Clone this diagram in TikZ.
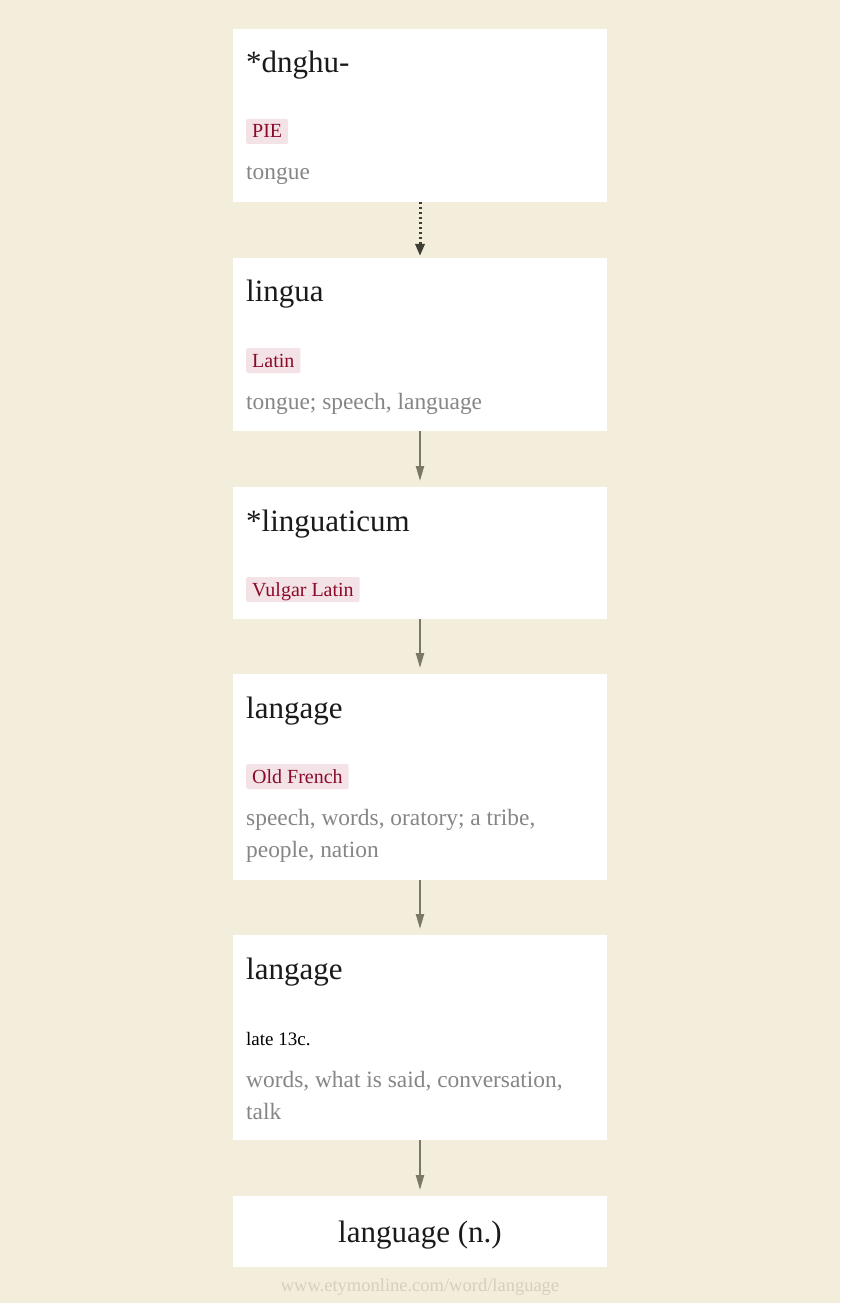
\documentclass[tikz,border=0pt]{standalone}
\usepackage{fontspec}
\setmainfont{Liberation Serif}
\usepackage{xcolor}
\usepackage{tikz}
\usetikzlibrary{arrows.meta}
\definecolor{pagebg}{HTML}{F3EDDB}
\definecolor{wordink}{HTML}{1A1A1A}
\definecolor{glossink}{HTML}{868686}
\definecolor{langink}{HTML}{8B0A2A}
\definecolor{langbg}{HTML}{F3E2E6}
\definecolor{linkink}{HTML}{7B7868}
\definecolor{guessink}{HTML}{3E3E34}
\definecolor{siteink}{HTML}{D5CFBF}

\begin{document}
\begin{tikzpicture}[x=1bp, y=-1bp]
    \tikzstyle{entry}=[fill=white, inner sep=0, minimum width=374bp, anchor=north]
    \tikzstyle{word}=[text=wordink, inner sep=0, anchor=base west, font=\fontsize{31bp}{36bp}\selectfont]
    \tikzstyle{lang}=[text=langink, fill=langbg, rounded corners=2bp, inner xsep=6bp, inner ysep=6bp,
                      text height=13bp, text depth=0bp, anchor=base west, font=\fontsize{20bp}{24bp}\selectfont]
    \tikzstyle{date}=[text=black, inner sep=0, anchor=base west, font=\fontsize{19bp}{24bp}\selectfont]
    \tikzstyle{gloss}=[text=glossink, inner sep=0, anchor=base west, font=\fontsize{23.4bp}{32bp}\selectfont]
    \tikzstyle{link}=[draw=linkink, line width=2.2bp, -{Triangle[length=15bp, width=8bp]}, shorten >=6bp]
    \tikzstyle{guess}=[draw=guessink, line width=3bp, dash pattern=on 2bp off 3bp, -{Triangle[length=12bp, width=9bp]}, shorten >=2bp]
    \fill[pagebg] (0,0) rectangle (840,1303);
    \useasboundingbox (0,0) rectangle (840,1303);

    \node[entry, minimum height=173bp] (pie) at (420,29) {};
    \node[word] (pieword) at (246,73) {*dnghu-};
    \node[lang] (pielang) at (246,138) {PIE};
    \node[gloss] (piegloss) at (246,180) {tongue};

    \node[entry, minimum height=173bp] (latin) at (420,258) {};
    \node[word] (latinword) at (246,302) {lingua};
    \node[lang] (latinlang) at (246,367) {Latin};
    \node[gloss] (latingloss) at (246,409) {tongue; speech, language};

    \node[entry, minimum height=132bp] (vulgar) at (420,487) {};
    \node[word] (vulgarword) at (246,531) {*linguaticum};
    \node[lang] (vulgarlang) at (246,596) {Vulgar Latin};

    \node[entry, minimum height=206bp] (oldfr) at (420,674) {};
    \node[word] (oldfrword) at (246,718) {langage};
    \node[lang] (oldfrlang) at (246,783) {Old French};
    \node[gloss] (oldfrgloss) at (246,825) {speech, words, oratory; a tribe,};
    \node[gloss] (oldfrgloss2) at (246,857) {people, nation};

    \node[entry, minimum height=205bp] (midengl) at (420,935) {};
    \node[word] (midenglword) at (246,979) {langage};
    \node[date] (midengldate) at (246,1045) {late 13c.};
    \node[gloss] (midenglgloss) at (246,1087) {words, what is said, conversation,};
    \node[gloss] (midenglgloss2) at (246,1119) {talk};

    \node[entry, minimum height=71bp] (modern) at (420,1196) {};
    \node[word, anchor=base] (modernword) at (420,1242) {language (n.)};

    \node[text=siteink, inner sep=0, anchor=base, font=\fontsize{18.5bp}{22bp}\selectfont] (site) at (420,1291) {www.etymonline.com/word/language};

    \draw[guess] (pie) -- (latin);
    \draw[link] (latin) -- (vulgar);
    \draw[link] (vulgar) -- (oldfr);
    \draw[link] (oldfr) -- (midengl);
    \draw[link] (midengl) -- (modern);
\end{tikzpicture}
\end{document}
